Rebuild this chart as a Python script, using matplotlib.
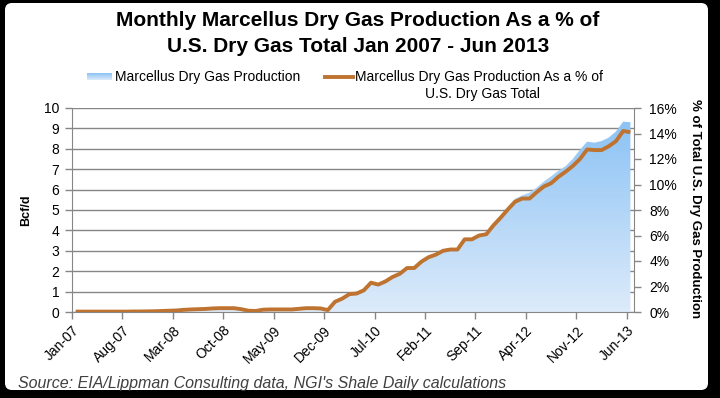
import numpy as np
import pandas as pd
import matplotlib
matplotlib.use('Agg')
import matplotlib.pyplot as plt
from matplotlib.colors import LinearSegmentedColormap
from matplotlib.patches import FancyBboxPatch
from matplotlib.transforms import IdentityTransform
from matplotlib.ticker import MultipleLocator, PercentFormatter

plt.rcParams['font.family'] = ['Liberation Sans', 'DejaVu Sans']

# datos: Ene-2007 .. Jun-2013, mensual
months = pd.date_range('2007-01-01', periods=78, freq='MS').strftime('%b-%y').tolist()
tick_labels = months[::7]

# produccion Marcellus (Bcf/d), eje izquierdo
prod_bcfd = [0.02, 0.02, 0.02, 0.02, 0.02, 0.02, 0.02, 0.02, 0.025, 0.025,
             0.03, 0.04, 0.05, 0.06, 0.08, 0.10, 0.12, 0.14, 0.15, 0.17,
             0.19, 0.19, 0.19, 0.14, 0.06, 0.05, 0.11, 0.12, 0.12, 0.12,
             0.12, 0.16, 0.19, 0.19, 0.18, 0.10, 0.50, 0.66, 0.88, 0.91,
             1.07, 1.44, 1.35, 1.50, 1.72, 1.88, 2.16, 2.17, 2.48, 2.70,
             2.82, 3.01, 3.08, 3.08, 3.58, 3.58, 3.77, 3.86, 4.35, 4.75,
             5.15, 5.55, 5.72, 5.85, 6.10, 6.40, 6.65, 6.92, 7.15, 7.50,
             7.95, 8.35, 8.30, 8.38, 8.55, 8.85, 9.33, 9.30]

# % del total de EE.UU., eje derecho
pct_us = [0.03, 0.03, 0.03, 0.03, 0.03, 0.03, 0.03, 0.03, 0.04, 0.04,
          0.05, 0.06, 0.08, 0.10, 0.12, 0.17, 0.20, 0.22, 0.24, 0.28,
          0.30, 0.30, 0.30, 0.22, 0.10, 0.08, 0.18, 0.20, 0.20, 0.20,
          0.20, 0.25, 0.30, 0.30, 0.28, 0.15, 0.80, 1.05, 1.40, 1.45,
          1.70, 2.30, 2.15, 2.40, 2.75, 3.00, 3.45, 3.45, 3.95, 4.30,
          4.50, 4.80, 4.90, 4.90, 5.70, 5.70, 6.00, 6.10, 6.80, 7.40,
          8.05, 8.65, 8.90, 8.90, 9.40, 9.85, 10.10, 10.60, 11.00, 11.45,
          12.00, 12.75, 12.70, 12.70, 13.00, 13.40, 14.20, 14.10]

gray = '#868686'
brown = '#BE7330'
cmap = LinearSegmentedColormap.from_list('area', ['#DDEBFA', '#8CC3F5'])
grad = np.linspace(0, 1, 256).reshape(-1, 1)

fig = plt.figure(figsize=(7.2, 3.98), dpi=100, facecolor='black')
# marco blanco con esquinas redondeadas
fig.add_artist(FancyBboxPatch((5, 8), 703, 387, boxstyle='round,pad=0,rounding_size=7',
                              transform=IdentityTransform(), fc='white', ec='none', zorder=-10))

ax = fig.add_axes([72 / 720, 1 - 312 / 398, (634 - 72) / 720, (312 - 108) / 398])
ax.set_facecolor('none')
x = np.arange(len(months)) + 0.5

# area con degradado
area = ax.fill_between(x, prod_bcfd, 0, facecolor='none', edgecolor='none')
im = ax.imshow(grad, extent=[0, len(months), 0, max(prod_bcfd)], origin='lower',
               aspect='auto', cmap=cmap, zorder=1, interpolation='bilinear')
im.set_clip_path(area.get_paths()[0], transform=ax.transData)

ax.set_xlim(0, len(months))
ax.set_ylim(0, 10)
ax.set_yticks(range(11))
ax.yaxis.grid(True, color=gray, lw=1)
ax.set_axisbelow(True)
ax.set_xticks(np.arange(0, len(months), 7))
ax.set_xticklabels(tick_labels, rotation=45, ha='right', rotation_mode='anchor')
ax.tick_params(axis='y', length=5, color=gray, width=1, pad=4, labelsize=10)
ax.tick_params(axis='x', length=5, color=gray, width=1, pad=3, labelsize=10)
ax.spines['top'].set_visible(False)
ax.spines['right'].set_visible(False)
ax.spines['left'].set_color(gray)
ax.spines['bottom'].set_color(gray)

ax2 = ax.twinx()
ax2.plot(x, pct_us, color=brown, lw=2.8, solid_joinstyle='round', solid_capstyle='butt')
ax2.set_ylim(0, 16)
ax2.yaxis.set_major_locator(MultipleLocator(2))
ax2.yaxis.set_major_formatter(PercentFormatter(decimals=0))
ax2.tick_params(axis='y', length=5, color=gray, width=1, pad=6, labelsize=10)
for s in ['top', 'left', 'bottom']:
    ax2.spines[s].set_visible(False)
ax2.spines['right'].set_color(gray)

# titulos y etiquetas
fig.text(358 / 720, 1 - 26.5 / 398, 'Monthly Marcellus Dry Gas Production As a % of',
         ha='center', va='baseline', fontsize=15, fontweight='bold')
fig.text(358 / 720, 1 - 52.5 / 398, 'U.S. Dry Gas Total Jan 2007 - Jun 2013',
         ha='center', va='baseline', fontsize=15, fontweight='bold')
fig.text(26 / 720, 1 - 210 / 398, 'Bcf/d', rotation=90, ha='center', va='center',
         fontsize=9, fontweight='bold')
fig.text(695 / 720, 1 - 209 / 398, '% of Total U.S. Dry Gas Production', rotation=-90,
         ha='center', va='center', fontsize=9.5, fontweight='bold')

# leyenda manual
lax = fig.add_axes([87 / 720, 1 - 80 / 398, 25 / 720, 7 / 398])
lax.imshow(grad, origin='lower', aspect='auto', cmap=cmap, extent=[0, 1, 0, 1])
lax.axis('off')
fig.text(115 / 720, 1 - 81 / 398, 'Marcellus Dry Gas Production', ha='left', va='baseline',
         fontsize=10)
fig.add_artist(plt.Line2D([325 / 720, 353 / 720], [1 - 76.5 / 398, 1 - 76.5 / 398],
                          color=brown, lw=2.8, transform=fig.transFigure))
fig.text(355 / 720, 1 - 81 / 398, 'Marcellus Dry Gas Production As a % of',
         ha='left', va='baseline', fontsize=10)
fig.text(483 / 720, 1 - 98 / 398, 'U.S. Dry Gas Total',
         ha='center', va='baseline', fontsize=10)

fig.text(18 / 720, 1 - 388 / 398,
         "Source: EIA/Lippman Consulting data, NGI's Shale Daily calculations",
         ha='left', va='baseline', fontsize=11.5, style='italic', color='#404040')

fig.savefig('out.png', dpi=100, facecolor='black')
